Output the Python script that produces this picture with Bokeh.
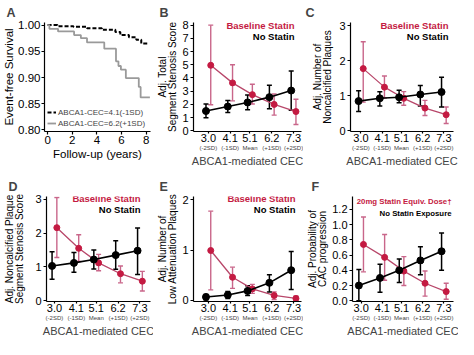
from bokeh.plotting import figure
from bokeh.layouts import column, row
from bokeh.models import (ColumnDataSource, Whisker, TeeHead, Label, LinearAxis,
                          FixedTicker, Range1d, Legend, LegendItem)
from bokeh.transform import dodge
from bokeh.embed import file_html
from bokeh.resources import INLINE

FONT = "Liberation Sans"
RED = "#C41A42"
RED_LINE = "#B8476A"
RED_ERR = "#C9668A"
GREY = "#9A9A9A"

# ---------------- Panel A data (Kaplan-Meier steps) ----------------
years_low = [0, 0.8, 2.1, 3.2, 4.4, 5.5, 5.9, 6.6, 7.2, 7.6, 8.2]
surv_low = [1.0, 0.998, 0.997, 0.994, 0.991, 0.987, 0.981, 0.977, 0.972, 0.965, 0.965]
years_high = [0, 0.15, 0.85, 2.15, 2.7, 3.2, 4.6, 5.55, 5.75, 5.95, 6.35, 7.4, 7.55, 8.3]
surv_high = [1.0, 0.993, 0.988, 0.981, 0.975, 0.967, 0.955, 0.931, 0.922, 0.915, 0.899, 0.882, 0.862, 0.862]
legend_a = ["ABCA1-CEC=4.1(-1SD)", "ABCA1-CEC=6.2(+1SD)"]
a_xticks = [0, 2, 4, 6, 8]
a_yticks = [0.80, 0.85, 0.90, 0.95, 1.00]

# ---------------- Panels B-F data ----------------
cec = [3.0, 4.1, 5.1, 6.2, 7.3]
cec_labels = ["3.0", "4.1", "5.1", "6.2", "7.3"]
sd_labels = ["(-2SD)", "(-1SD)", "Mean", "(+1SD)", "(+2SD)"]

b_black = [1.5, 1.84, 2.15, 2.55, 3.05]
b_black_lo = [1.0, 1.38, 1.6, 1.67, 1.55]
b_black_hi = [2.03, 2.29, 2.72, 3.46, 4.53]
b_red = [4.96, 3.63, 2.74, 2.0, 1.46]
b_red_lo = [1.98, 2.27, 2.03, 1.19, 0.48]
b_red_hi = [8.0, 5.0, 3.53, 2.79, 2.39]

c_black = [0.85, 0.93, 0.96, 1.04, 1.11]
c_black_lo = [0.55, 0.71, 0.8, 0.71, 0.68]
c_black_hi = [1.15, 1.12, 1.16, 1.3, 1.53]
c_red = [1.78, 1.25, 0.93, 0.65, 0.46]
c_red_lo = [0.82, 0.94, 0.73, 0.44, 0.21]
c_red_hi = [2.55, 1.57, 1.12, 0.87, 0.68]

d_black = [1.03, 1.12, 1.22, 1.35, 1.48]
d_black_lo = [0.64, 0.84, 0.94, 0.93, 0.78]
d_black_hi = [1.45, 1.43, 1.5, 1.77, 2.15]
d_red = [2.16, 1.55, 1.12, 0.8, 0.58]
d_red_lo = [1.28, 1.16, 0.89, 0.53, 0.29]
d_red_hi = [3.05, 1.95, 1.37, 1.03, 0.87]

e_black = [0.07, 0.11, 0.19, 0.35, 0.6]
e_black_lo = [0.01, 0.04, 0.1, 0.17, 0.22]
e_black_hi = [0.12, 0.18, 0.29, 0.51, 0.97]
e_red = [0.99, 0.46, 0.23, 0.1, 0.04]
e_red_lo = [0.21, 0.24, 0.14, 0.02, 0.01]
e_red_hi = [1.77, 0.66, 0.32, 0.17, 0.09]

f_black = [0.2, 0.3, 0.4, 0.53, 0.65]
f_black_lo = [0.0, 0.11, 0.24, 0.34, 0.4]
f_black_hi = [0.41, 0.48, 0.55, 0.71, 0.89]
f_red = [0.74, 0.57, 0.39, 0.23, 0.12]
f_red_lo = [0.38, 0.27, 0.2, 0.06, 0.02]
f_red_hi = [1.1, 0.87, 0.58, 0.39, 0.23]

# layout (frames of a row / column are aligned by Bokeh)
COLS = [(153, 40, 3), (150, 37, 2), (155, 47, 5)]   # width, left border, right border
ROWS = [(169, 20, 37), (170, 27, 35)]                # height, top border, bottom border


def style_axes(p, tick_size="11px"):
    for ax in p.xaxis + p.yaxis:
        ax.axis_line_color = "black"
        ax.axis_line_width = 1.2
        ax.major_tick_line_color = "black"
        ax.major_tick_line_width = 1.2
        ax.major_tick_in = 0
        ax.major_tick_out = 3
        ax.minor_tick_line_color = None
        ax.major_label_text_font = FONT
        ax.major_label_text_font_size = tick_size
        ax.major_label_text_color = "black"
        ax.axis_label_text_font = FONT
        ax.axis_label_text_font_style = "normal"
        ax.axis_label_text_color = "black"
        ax.major_label_standoff = 1
        ax.axis_label_standoff = 1
    p.xgrid.visible = False
    p.ygrid.visible = False
    p.outline_line_color = None


def make_fig(col, rw, xr, yr, name, let_dx):
    w, left, right = COLS[col]
    h, top, bottom = ROWS[rw]
    p = figure(width=w, height=h, x_range=Range1d(*xr), y_range=Range1d(*yr),
               output_backend="svg", toolbar_location=None,
               min_border_left=left, min_border_right=right,
               min_border_top=top, min_border_bottom=bottom)
    p.title.text = name
    p.title.align = "left"
    p.title.offset = let_dx - left
    p.title.standoff = 6
    p.title.text_font = FONT
    p.title.text_font_size = "12.5px"
    p.title.text_font_style = "bold"
    return p


# ---------------- Panel A ----------------
pa = make_fig(0, 0, (-0.25, 8.35), (0.797, 1.005), "A", 2)
r_low = pa.step(years_low, surv_low, mode="after", line_color="black", line_width=2, line_dash="4 2")
r_high = pa.step(years_high, surv_high, mode="after", line_color=GREY, line_width=1.8)
style_axes(pa, "11.5px")
pa.xaxis.ticker = FixedTicker(ticks=a_xticks)
pa.yaxis.ticker = FixedTicker(ticks=a_yticks)
pa.yaxis.major_label_overrides = {v: f"{v:.2f}" for v in a_yticks}
pa.xaxis.axis_label = "Follow-up (years)"
pa.yaxis.axis_label = "Event-free Survival"
pa.xaxis.axis_label_text_font_size = "11.5px"
pa.yaxis.axis_label_text_font_size = "11.5px"
pa.yaxis.axis_label_standoff = 0
leg = Legend(items=[LegendItem(label=legend_a[0], renderers=[r_low]),
                    LegendItem(label=legend_a[1], renderers=[r_high])],
             location="bottom_left", background_fill_alpha=0, border_line_color=None,
             label_text_font=FONT, label_text_font_size="8px", glyph_width=9, glyph_height=8,
             label_standoff=2, spacing=1, padding=0, margin=3, label_height=10)
pa.add_layout(leg)


def cec_panel(name, col, rw, xr, yr, yticks, ylabel, black, blo, bhi, red, rlo, rhi,
              leg_texts, leg_size, leg_dx, leg_dy, leg_gap, let_dx, lab_standoff, yfmt=None):
    p = make_fig(col, rw, xr, yr, name, let_dx)
    style_axes(p)
    p.xaxis.ticker = FixedTicker(ticks=cec)
    p.xaxis.major_label_overrides = dict(zip(cec, cec_labels))
    p.xaxis.major_tick_out = 2
    p.xaxis.major_label_standoff = 0
    p.yaxis.ticker = FixedTicker(ticks=yticks)
    if yfmt:
        p.yaxis.major_label_overrides = {v: yfmt.format(v) for v in yticks}
    p.yaxis.axis_label = ylabel
    p.yaxis.axis_label_text_font_size = "10px"
    p.yaxis.axis_label_text_line_height = 0.95
    p.yaxis.axis_label_standoff = lab_standoff
    p.yaxis.major_label_standoff = 2

    sd_axis = LinearAxis(ticker=FixedTicker(ticks=cec),
                         major_label_overrides=dict(zip(cec, sd_labels)),
                         axis_line_color=None, major_tick_line_color=None,
                         minor_tick_line_color=None, major_tick_out=0, major_tick_in=0,
                         minor_tick_out=0, minor_tick_in=0,
                         major_label_text_font=FONT, major_label_text_font_size="6px",
                         major_label_standoff=0,
                         axis_label="ABCA1-mediated CEC", axis_label_text_font=FONT,
                         axis_label_text_font_size="11px", axis_label_text_font_style="normal",
                         axis_label_standoff=1)
    p.add_layout(sd_axis, "below")

    red_src = ColumnDataSource(dict(x=cec, y=red, lo=rlo, hi=rhi))
    blk_src = ColumnDataSource(dict(x=cec, y=black, lo=blo, hi=bhi))

    # red series (slightly right)
    p.line(x=dodge("x", 0.12), y="y", source=red_src, line_color=RED_LINE, line_width=1.3)
    p.add_layout(Whisker(base=dodge("x", 0.12), upper="hi", lower="lo", source=red_src,
                         dimension="height", line_color=RED_ERR, line_width=1.4,
                         upper_head=TeeHead(size=5, line_color=RED_ERR, line_width=1.4),
                         lower_head=TeeHead(size=5, line_color=RED_ERR, line_width=1.4)))
    p.scatter(x=dodge("x", 0.12), y="y", source=red_src, size=6, fill_color=RED,
              line_color=RED)

    # black series (slightly left)
    p.line(x=dodge("x", -0.12), y="y", source=blk_src, line_color="black", line_width=1.6)
    p.add_layout(Whisker(base=dodge("x", -0.12), upper="hi", lower="lo", source=blk_src,
                         dimension="height", line_color="black", line_width=1.5,
                         upper_head=TeeHead(size=5, line_color="black", line_width=1.5),
                         lower_head=TeeHead(size=5, line_color="black", line_width=1.5)))
    p.scatter(x=dodge("x", -0.12), y="y", source=blk_src, size=7, fill_color="black",
              line_color="black")

    p.add_layout(Label(x=xr[1], y=yr[1], x_offset=-leg_dx, y_offset=-leg_dy,
                       text=leg_texts[0], text_color=RED, text_font=FONT,
                       text_font_size=leg_size, text_font_style="bold",
                       text_align="right", text_baseline="middle"))
    p.add_layout(Label(x=xr[1], y=yr[1], x_offset=-leg_dx, y_offset=-leg_dy - leg_gap,
                       text=leg_texts[1], text_color="black", text_font=FONT,
                       text_font_size=leg_size, text_font_style="bold",
                       text_align="right", text_baseline="middle"))
    return p


statin_leg = ["Baseline Statin", "No Statin"]

pb = cec_panel("B", 1, 0, (2.25, 7.7), (-0.05, 8.2), list(range(0, 9)),
               "Adj. Total\nSegment Stenosis Score",
               b_black, b_black_lo, b_black_hi, b_red, b_red_lo, b_red_hi,
               statin_leg, "9.5px", 7, 3, 11, 3, 1)
pc = cec_panel("C", 2, 0, (2.46, 7.8), (-0.02, 3.1), [0, 1, 2, 3],
               "Adj. Number of\nNoncalcified Plaques",
               c_black, c_black_lo, c_black_hi, c_red, c_red_lo, c_red_hi,
               statin_leg, "9.5px", 5, 3, 11, 2, 3)
pd_ = cec_panel("D", 0, 1, (2.6, 7.83), (-0.02, 3.08), [0, 1, 2, 3],
                "Adj. Noncalcified Plaque\nSegment Stenosis Score",
                d_black, d_black_lo, d_black_hi, d_red, d_red_lo, d_red_hi,
                statin_leg, "9.5px", 10, 2, 11, 2, 7)
pe = cec_panel("E", 1, 1, (2.25, 7.7), (-0.02, 2.06), [0, 1, 2],
               "Adj. Number of\nLow Attenuation Plaques",
               e_black, e_black_lo, e_black_hi, e_red, e_red_lo, e_red_hi,
               statin_leg, "9.5px", 6, 2, 11, 3, 1)
pf = cec_panel("F", 2, 1, (2.55, 7.8), (-0.01, 1.37),
               [0.0, 0.2, 0.4, 0.6, 0.8, 1.0, 1.2],
               "Adj. Probability of\nCAC progression",
               f_black, f_black_lo, f_black_hi, f_red, f_red_lo, f_red_hi,
               ["20mg Statin Equiv. Dose\u2020", "No Statin Exposure"], "7.8px", 2, 5, 12, 6, 1,
               yfmt="{:.1f}")

layout = column(row(pa, pb, pc), row(pd_, pe, pf))
open("out.html", "w").write(file_html(layout, INLINE))
